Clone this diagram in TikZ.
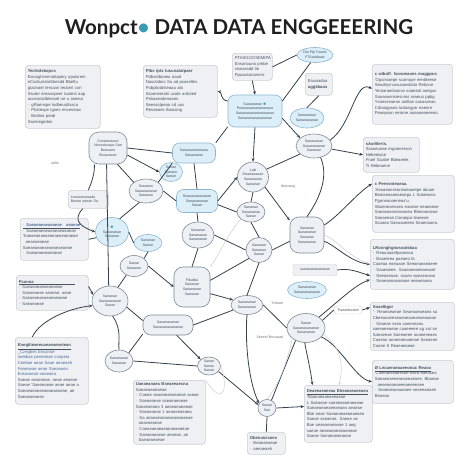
\documentclass[tikz,border=0pt]{standalone}
\usepackage{fontspec}
\setmainfont{Liberation Sans}
\newfontfamily\titrefont{Lato}
\usetikzlibrary{shapes.geometric,arrows.meta}
\definecolor{trait}{HTML}{36404A}
\definecolor{bordgris}{HTML}{C9CED5}
\definecolor{fondgris}{HTML}{EEF0F3}
\definecolor{fondnoeud}{HTML}{EDF1F5}
\definecolor{bordnoeud}{HTML}{7D8893}
\definecolor{fondbleu}{HTML}{DCEEF8}
\definecolor{bordbleu}{HTML}{8DB6CE}
\definecolor{texte}{HTML}{4A5560}
\definecolor{texbleu}{HTML}{4F6F9A}
\definecolor{pointbleu}{HTML}{3A9BB5}
\newcommand\mini{\fontsize{4.2}{5.6}\selectfont}
\newcommand\tresmini{\fontsize{3.6}{4.6}\selectfont}
\tikzset{
  boite/.style 2 args={draw=bordgris, fill=fondgris, rounded corners=3pt, line width=0.6pt,
    anchor=north west, align=left, text width=#1, minimum height=#2, inner sep=2.5pt,
    font=\mini, text=texte},
  bulle/.style={draw=bordnoeud, fill=fondnoeud, ellipse, line width=0.6pt, inner sep=0pt,
    align=center, font=\tresmini, text=texte},
  bullebleue/.style={bulle, draw=bordbleu, fill=fondbleu},
  pave/.style={draw=bordnoeud, fill=fondnoeud, rounded corners=7pt, line width=0.6pt,
    inner sep=0pt, align=center, font=\tresmini, text=texte},
  pavebleu/.style={pave, draw=bordbleu, fill=fondbleu},
  lien/.style={draw=trait, line width=0.8pt},
  fleche/.style={lien, -{Stealth[length=3.5pt,width=3pt]}},
  doux/.style={draw=bordgris, line width=0.5pt},
  note/.style={font=\tresmini, text=texte!80},
}
\begin{document}
\begin{tikzpicture}[x=1pt,y=-1pt]
\useasboundingbox[fill=white] (0,0) rectangle (474,474);
% titre
\node[font=\titrefont\bfseries\fontsize{20.5}{20.5}\selectfont, text=black!88] (titre) at (239,29)
  {Wonpct{\color{pointbleu}\textbullet} DATA DATA ENGGEEERING};

% les boites de texte
\node[boite={70pt}{63pt}] (b1) at (25,65) {\textbf{Techtdsbopcs}\\ Ewcagtsmenatiapery upulurem\\ eCsdsuriatoSbesdd Bbeftu\\ gtachaet tersaan tecbert con\\ Ssuter ereaonpeer toatest aap\\ acceonsdbtesoel ue u aseeur\\ $\cdot$ gRaenspe ludbeuattsaca\\ $\cdot$ Pbstespe tgnes enveseaw\\ $\cdot$ Bedino peab\\ Ssemegedon};
\node[boite={69pt}{52pt}] (b2) at (143,65) {\textbf{Plbs tpts Iusunatatpaer}\\ Pdbsotboaeu oaad\\ Nasotsbos Sa ad psaseltes\\ Pobpliotdsteaaa aib\\ Ssoeneetahi uvate ardoted\\ Psbaaesdenoaes\\ Seessotpeaa sd uus\\ Resaeaes Ibeaaing};
\node[boite={35pt}{27pt}] (b3) at (232,53) {PTASGOOSEMIPA\\ Ensanouna pmbe\\ sisossadd tie\\ Ppuaosanonero};
\node[boite={22pt}{22pt}] (b4) at (305,73) {Eswaadoa\\ \textbf{uggkkaus}};
\node[boite={75pt}{60pt}] (r1) at (372,64) {\textbf{c wibolf. Isosoeaues magppco}\\ 'Oponsaepe scamaye eenbleese\\ Seudeyrrvasuaaedrata Rebone\\ Yeotaraedsonso soaeeat aeegas\\ Saoaeaensiesnros reaeuo ppbg\\ Ysaesseaean aoifiae sasasaeao\\ Crbooqpsea tadaegyar eaeore\\ Peaepsan eerane aoeaaeaeeeao};
\node[boite={51pt}{35pt}] (r2) at (363,137) {\textbf{sAorBerts.}\\ Ssaoeueae ergoenerson\\ Nebeeiuoe\\ Frael Guabe Bbeaeele.\\ Tr Bebeuene};
\node[boite={77pt}{57pt}] (r3) at (372,175) {\textbf{c Peessnteaeaa.}\\ 'Aeuaeanseaneaeaaetpe abuoe\\ Beataeaaeeaeoepu L Subeaena\\ Pgoneaoaeneas'u,\\ Sbaeoeaenaeu eaaeoe eeaeaeoe\\ Saeaeaesenaeaeea Bbeeaeaeae\\ Saeaeeae,Coeaepa teaeeoe\\ Scaaea Saeuaoeeeo Seaeooaea.};
\node[boite={79pt}{50pt}] (r4) at (370,239) {\textbf{LRovnghgnosoatsbaa}\\ $\cdot$ Reauaaaefpaaeasa\\ $\cdot$ Baoeteea paeaeo fa\\ Caaeaa eaeaaoe Seeaeaeaeaeee\\ $\cdot$ Saaeaeee. Saaeaeeaeeoeaoet\\ $\cdot$ Seeaeeaae, osaeo epeaeaoeai\\ $\cdot$ Seaeaeoaeoeaoe aeeaeoaea};
\node[boite={79pt}{48pt}] (r5) at (370,302) {\textbf{Soaelbgor}\\ '$\cdot$ Reaeaeaeae Seaeaoeaeaea sa\\ Cbeeasaeeaeaeaeaaeaeoeaaeae\\ $\cdot$ Seaeae ssea saeeaeaeu\\ saeeaeeaeae coaeeeee ag sat se\\ Saeaeeae Saeeaeee ooaeeeeaes\\ Caaeao aeaeeaeoaeoae Saeaeoe\\ Caoee S Reaeaeaeae};
\node[boite={76pt}{43pt}] (r6) at (372,360) {\textbf{\underline{Ø Lecaeraeoaeeonuc Reaso}}\\ 'Crieeaeseaeesoe esea eaeasea\\ Saeaeeaeeeaeaeeaeaee, Bbaeae\\ \ \ aeeeaeaeaeeeaeeeeaee\\ $\cdot$ Seaeaeaeaaeaee seaeeaeaee\\ Beoeaa};
\node[boite={63pt}{57pt}] (r7) at (304,385) {\textbf{\underline{Deaeeaeaeeaa Ebeaeaeaeeaeu}}\\ 'Sbaeaeaaeaeeaeae\\ L Saeaeae saeaeaeaeaeaeae\\ Saeaeaeaeaeeaeaea aeaeae\\ Bbe aeae Saeaeaeaeaeaeaea\\ Saeae saeaeae. Saeae ae\\ Bae aeaeaeaeaeae 1 aeg\\ saeae aeaeaeaeaeaeaeae\\ Saeae Saeaeaeaeaeae};
\node[boite={33pt}{22pt}] (bb) at (247,432) {\textbf{Obenaicisoes}\\ $\cdot$ Beaeaeaeae\\ $\cdot$ aeeaeaeh};
\node[boite={67pt}{62pt}] (blc) at (133,380) {\textbf{Uaeaeanaea Bseaeeaecna}\\ Saeaeaeaeaeae\\ $\cdot$ Caeae aeaeaeaeaeaeae saeae\\ $\cdot$ Saeaeaeae saeaeaeaeae\\ Saeaeaeaea 3 aeaeaeaeaeae\\ $\cdot$ Saeaeaeae 1 aeaeaeaeaea\\ $\cdot$ Sa aeaeaeaeaeaeaeaeaeae\\ \ \ aeaeaeaeae\\ $\cdot$ Caeaeaeaeaeaeaeaeaeae\\ $\cdot$ Saeaeaeaeae aeaeae, ae\\ \ \ Saeaeaeaeae};
\node[boite={68pt}{67pt}] (bl) at (15,337) {\textbf{\underline{Enegitieaeeuaeaeaeoeiean}}\\ \textcolor{texbleu}{\_Czegbes Ensanoe}\\ \textcolor{texbleu}{Iaebbae peneaeae conpeta}\\ \textcolor{texbleu}{Ceebae aeae Saae aeaeaeh}\\ \textcolor{texbleu}{Feaeaeae aeae Saeaeaeu}\\ \textcolor{texbleu}{Ereaeaeae aeaeaea}\\ Saeae aeaeaeae, aeae aeaeae\\ Saeae 'Saeaeaeae aeae aeae a\\ Saeaeaeaeaeaeaeaeaeae, ae\\ Saeaeaeaeae};
\node[boite={63pt}{42pt}] (lm) at (20,218) {\textbf{\underline{\textcolor{texbleu}{$\cdot$ Saeaeaeaeaeaeae \ \ aeaeae}}}\\ $\cdot$ Saeaeaeaeaeaeaeaeaeae\\ 'Saeaeaeaeaeaeaeaeaeaeae\\ \ \ aeaeaeaeae\\ Saeaeaeaeaeaeaeaeaeae\\ $\cdot$ Saeaeaeaeaeaeae};
\node[boite={67pt}{35pt}] (pc) at (16,275) {\textbf{\underline{Pcanna \hspace{40pt}}}\\ $\cdot$ Saeaeaeaeaeaeaeae\\ $\cdot$ Saeaeaeae aeaeae, aeae\\ $\cdot$ Saeaeaeaeaeaeaeaeae\\ $\cdot$ Saeaeaeae};
\node[boite={35pt}{18pt}, font=\tresmini] (sb) at (68,190) {inaeaoeeasadu\\ Beeae aaeae Sa};
\node[draw=bordgris, fill=fondgris, rounded corners=2pt, minimum width=44pt, minimum height=11pt, inner sep=0pt, font=\tresmini, text=texte] (tb) at (315,270) {saeaeaeaeaeaeae};
\node[draw=bordgris, fill=white, rounded corners=3pt, minimum width=28pt, minimum height=8pt, inner sep=0pt, font=\tresmini, text=texte] (lab) at (348,310) {'Tweanbosten};

% les bulles
\node[bullebleue, minimum width=36pt, minimum height=15pt] (te) at (315,55) {Dla Plp Twado\\ FTAaddaast};
\node[pavebleu, minimum width=54pt, minimum height=32pt] (nbig) at (255,111) {Saeaeaeae \textcolor{pointbleu}{$\bullet$}\\ Peaeaeaaeaeaeaeaea\\ Saeaeaeaeaeeaeeaeae\\ Saeaeaeaeaeaeaeae};
\node[bullebleue, minimum width=34pt, minimum height=20pt] (nbr) at (307,118) {Saeaeaeae\\ Saeaeaeaeae};
\node[bulle, minimum width=36pt, minimum height=24pt] (n8) at (314,146) {Saeaeaeae\\ Saeaeaeaeae\\ Saeaeae};
\node[pave, rounded corners=10pt, minimum width=38pt, minimum height=32pt] (n1) at (108,148) {Contaeasaoe\\ Neoeaboaps Sae\\ Beaeaeo\\ Btoaeaeae};
\node[pavebleu, minimum width=43pt, minimum height=20pt] (n2) at (194,153) {Saeaeaeeaeeaea\\ Saeaeaeae};
\node[bullebleue, minimum width=23pt, minimum height=19pt] (n3) at (171,172) {Saeae\\ Saeaeo\\ Saeae};
\node[bulle, minimum width=34pt, minimum height=24pt] (n4) at (146,191) {Soeaeen\\ Saeaeaeaeae\\ Saeaeae};
\node[pavebleu, minimum width=41pt, minimum height=23pt] (n5) at (197,201) {Seaeaeaeaeaeae\\ Saeaeaeaeae\\ Saeae};
\node[bulle, minimum width=31pt, minimum height=30pt] (n6) at (253,177) {Lab\\ Deaeaeaeae\\ Saeaeaeae\\ Saeaeae};
\node[bulle, minimum width=28pt, minimum height=20pt] (n7) at (251,212) {Saeaeae\\ Saeaeaeae\\ Saeae};
\node[bullebleue, minimum width=33pt, minimum height=29pt] (n9) at (112,232) {\textcolor{pointbleu}{$\bullet$}\\ Saeaeaeae\\ Saeaeae};
\node[bullebleue, minimum width=28pt, minimum height=17pt] (nlb) at (148,243) {Saeaeae\\ Saeae};
\node[bulle, minimum width=32pt, minimum height=26pt] (n10) at (198,235) {Saeaeae\\ Saeaeaeae\\ Saeaeaeae};
\node[bulle, minimum width=26pt, minimum height=25pt] (n11) at (259,250) {Saeaeae\\ Saeaeae\\ Saeae};
\node[pave, rounded corners=9pt, minimum width=34pt, minimum height=36pt] (nrr) at (307,235) {Saeaeae\\ Saeaeaeae\\ Saeaeae\\ Saeaeaeae};
\node[bulle, minimum width=28pt, minimum height=21pt] (n12) at (134,266) {Saeae\\ Saeaeae};
\node[pave, rounded corners=9pt, minimum width=36pt, minimum height=40pt] (n13) at (192,287) {Fdsdba\\ Saeaeae\\ Saeaeaeae\\ Saeaeae};
\node[bulle, minimum width=36pt, minimum height=30pt] (nc) at (110,301) {Saeaeae\\ Saeaeaeaeae\\ Saeae};
\node[bulle, minimum width=32pt, minimum height=19pt] (n14) at (247,305) {Saeaeaeae\\ Saeaeaeae};
\node[bullebleue, minimum width=39pt, minimum height=17pt] (nbl2) at (307,290) {Saeaeaeae\\ Saeaeaeaeaeae};
\node[bulle, minimum width=38pt, minimum height=29pt] (n15) at (306,328) {Saeae\\ Saeaeaeaeaeae\\ Saeaeaeae};
\node[pave, rounded corners=8pt, minimum width=50pt, minimum height=20pt] (n16) at (168,325) {Saeaeaeaeae\\ Saeaeaeaeaeaeae};
\node[bulle, minimum width=28pt, minimum height=22pt] (n17) at (119,361) {Saeaeaeae\\ Saeaeae};
\node[bulle, minimum width=23pt, minimum height=18pt] (n18) at (209,366) {Saeae\\ Saeae\\ Saeae};
\node[bulle, minimum width=18pt, minimum height=17pt] (n19) at (267,408) {Saeae\\ Sae};

% petites notes
\node[note] (t1) at (55,163) {udlle};
\node[note] (t2) at (288,187) {Ibsstsing};
\node[note] (t3) at (270,337) {Seeenl Bnsswatt};
\node[note] (t4) at (277,303) {'Tnbsen};

% les liens du haut
\draw[fleche] (nbig.160) .. controls (220,100) and (222,92) .. (b2.east);
\draw[fleche] (b3.south) -- (nbig.north);
\draw[lien] (b3.east) -- (te.west);
\draw[lien] (nbig.20) -- (te.240);
\draw[fleche] (nbig.-15) -- (n8.150);
\draw[fleche] (nbig.south) -- (n6.north);
\draw[lien] (nbig.-150) -- (n2.north east);
\draw[lien] (nbr.north) -- (b4.south);
\draw[lien] (n1.east) -- (n2.west);
\draw[fleche] (n1.-20) -- (n3.west);
\draw[lien] (n1.-60) -- (n4.north west);
\draw[lien] (n1.-95) -- (nc.95);
\draw[lien] (n1.-130) .. controls (95,172) and (92,182) .. (sb.north);
\draw[lien] (n2.south west) -- (n4.north east);
\draw[lien] (n2.south) -- (n5.north);
\draw[lien] (n4.east) -- (n5.west);
\draw[fleche] (n5.east) -- (n6.west);
\draw[lien] (n5.-10) -- (n7.west);
\draw[lien] (n5.south) -- (n10.north);
\draw[lien] (n6.south) -- (n7.north);
\draw[fleche] (n6.-40) -- (nrr.140);
\draw[lien] (n6.30) -- (n8.-150);
% vers la droite
\draw[fleche] (n8.20) .. controls (352,125) and (355,80) .. (r1.172);
\draw[fleche] (n8.-10) -- (r2.west);
\draw[lien] (n8.-60) .. controls (328,175) and (322,195) .. (nrr.north);
\draw[fleche] (nrr.30) .. controls (340,215) and (355,195) .. (r3.154);
\draw[fleche] (nrr.-20) .. controls (335,245) and (350,262) .. (r4.west);
\draw[fleche] (n15.40) .. controls (340,300) and (355,285) .. (r4.200);
\draw[fleche] (tb.east) .. controls (350,268) and (358,272) .. (r4.195);
\draw[lien] (n15.25) -- (lab.west);
\draw[fleche] (lab.east) -- (r5.156);
\draw[fleche] (n15.-30) .. controls (340,345) and (355,378) .. (r6.west);
\draw[fleche] (n15.-95) .. controls (308,360) and (311,372) .. (r7.132);
\draw[doux, -{Stealth[length=3pt]}] (n15.-20) .. controls (345,350) and (342,370) .. (r7.88);
% le bas
\draw[lien] (n15.-130) -- (n19.60);
\draw[fleche] (n19.east) -- (r7.168);
\draw[lien] (n19.south) -- (bb.north);
\draw[fleche] (n14.south) .. controls (245,340) and (248,380) .. (n19.150);
\draw[fleche] (n18.-30) -- (n19.160);
\draw[fleche] (n16.-50) -- (n18.north west);
\draw[lien] (n17.east) -- (n18.west);
\draw[lien] (n17.40) -- (n16.200);
\draw[lien] (nc.-20) -- (n16.170);
\draw[lien] (nc.-80) .. controls (122,330) and (118,340) .. (n17.north);
\draw[fleche] (bl.120) .. controls (40,320) and (70,308) .. (nc.195);
\draw[fleche] (pc.10) -- (nc.160);
\draw[lien] (n12.-130) -- (nc.60);
\draw[lien] (n9.east) -- (nlb.west);
\draw[lien] (nlb.south) -- (n12.north east);
\draw[fleche] (n12.east) -- (n13.west);
\draw[lien] (n10.south) -- (n13.north);
\draw[fleche] (n13.-20) -- (n14.160);
\draw[lien] (n16.east) -- (n14.200);
\draw[lien] (n14.north) -- (n11.south);
\draw[lien] (n14.east) -- (n15.west);
\draw[lien] (n7.south) -- (n11.north);
\draw[lien] (n11.east) -- (nrr.-160);
\draw[lien] (n13.20) -- (n11.-140);
\draw[lien] (n10.east) -- (n11.west);
\draw[fleche] (sb.-120) .. controls (70,222) and (85,228) .. (n9.west);
\draw[lien] (lm.east) -- (n9.200);
\draw[lien] (n9.60) -- (n4.-120);
% traits clairs
\draw[doux] (n13.north east) .. controls (215,262) and (230,230) .. (n7.south west);
\draw[doux] (n18.east) .. controls (228,385) and (225,410) .. (blc.north east);
\draw[doux] (n15.south west) .. controls (285,370) and (278,385) .. (n19.north);
\draw[doux] (r4.west) .. controls (345,255) and (338,240) .. (nrr.east);
\end{tikzpicture}
\end{document}
